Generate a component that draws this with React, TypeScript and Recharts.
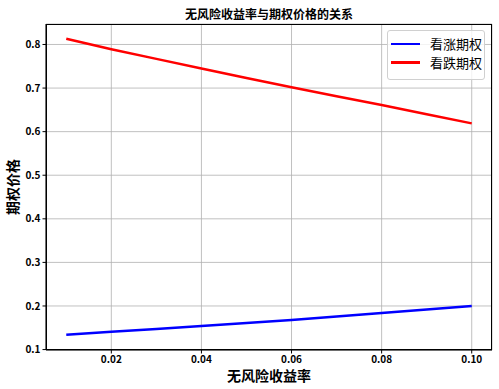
import React from 'react';
import { LineChart, Line, XAxis, YAxis, CartesianGrid, Legend } from 'recharts';

// 无风险收益率
const rates = [0.01, 0.02, 0.03, 0.04, 0.05, 0.06, 0.07, 0.08, 0.09, 0.1];
// 看涨期权价格
const callPrices = [0.134, 0.141, 0.147, 0.154, 0.161, 0.168, 0.176, 0.184, 0.192, 0.2];
// 看跌期权价格
const putPrices = [0.813, 0.789, 0.767, 0.745, 0.723, 0.702, 0.681, 0.661, 0.64, 0.619];

const xTicks = [0.02, 0.04, 0.06, 0.08, 0.1];
const yTicks = [0.1, 0.2, 0.3, 0.4, 0.5, 0.6, 0.7, 0.8];

const data = rates.map((r, i) => ({ r, call: callPrices[i], put: putPrices[i] }));

const FONT = '"Noto Sans CJK SC", "DejaVu Sans", sans-serif';

const W = 499;
const H = 389;
const plot = { left: 46, top: 24, right: 492, bottom: 350 };

function LegendBox() {
  const items = [
    { name: '看涨期权', color: '#0000ff' },
    { name: '看跌期权', color: '#ff0000' },
  ];
  return (
    <div
      style={{
        position: 'absolute',
        left: 387,
        top: 30,
        width: 98,
        height: 50,
        border: '1px solid #d0d0d0',
        borderRadius: 3,
        background: 'rgba(255,255,255,0.8)',
        fontFamily: FONT,
        fontSize: 13,
        boxSizing: 'border-box',
      }}
    >
      {items.map((it, i) => (
        <div key={it.name} style={{ position: 'absolute', left: 3, top: 4 + i * 18.5, display: 'flex', alignItems: 'center', height: 18 }}>
          <div style={{ width: 29, height: 2.5, background: it.color }} />
          <span style={{ marginLeft: 10, color: '#000', lineHeight: '18px' }}>{it.name}</span>
        </div>
      ))}
    </div>
  );
}

export default function App() {
  return (
    <div style={{ position: 'absolute', left: 0, top: 0, width: W, height: H, background: '#fff' }}>
      <LineChart
        width={W}
        height={H}
        data={data}
        margin={{ top: plot.top, right: W - plot.right, left: 8, bottom: 0 }}
      >
        <CartesianGrid stroke="#b0b0b0" strokeWidth={0.8} />
        <XAxis
          dataKey="r"
          type="number"
          domain={[0.0055, 0.1045]}
          ticks={xTicks}
          tickFormatter={(v: number) => v.toFixed(2)}
          height={H - plot.bottom}
          stroke="#000"
          tickSize={3.5}
          tick={{ fill: '#000', fontSize: 10, fontFamily: FONT, fontWeight: 600 }}
          allowDataOverflow
        />
        <YAxis
          type="number"
          domain={[0.099, 0.847]}
          ticks={yTicks}
          tickFormatter={(v: number) => v.toFixed(1)}
          width={plot.left - 8}
          stroke="#000"
          tickSize={3.5}
          tick={{ fill: '#000', fontSize: 10, fontFamily: FONT, fontWeight: 600 }}
          allowDataOverflow
        />
        <Line type="linear" dataKey="call" name="看涨期权" stroke="#0000ff" strokeWidth={2.5} dot={false} isAnimationActive={false} />
        <Line type="linear" dataKey="put" name="看跌期权" stroke="#ff0000" strokeWidth={2.5} dot={false} isAnimationActive={false} />
        <Legend content={() => null} />
      </LineChart>
      {/* 坐标框 */}
      <div
        style={{
          position: 'absolute',
          left: plot.left,
          top: plot.top,
          width: plot.right - plot.left,
          height: plot.bottom - plot.top,
          border: '1px solid #000',
          boxSizing: 'border-box',
          pointerEvents: 'none',
        }}
      />
      <LegendBox />
      <div
        style={{
          position: 'absolute',
          left: plot.left,
          width: plot.right - plot.left,
          top: 6,
          textAlign: 'center',
          fontFamily: FONT,
          fontSize: 12,
          fontWeight: 700,
          lineHeight: '16px',
        }}
      >
        无风险收益率与期权价格的关系
      </div>
      <div
        style={{
          position: 'absolute',
          left: plot.left,
          width: plot.right - plot.left,
          top: 366,
          textAlign: 'center',
          fontFamily: FONT,
          fontSize: 14,
          fontWeight: 700,
          lineHeight: '18px',
        }}
      >
        无风险收益率
      </div>
      <div
        style={{
          position: 'absolute',
          left: 12,
          top: (plot.top + plot.bottom) / 2,
          transform: 'translate(-50%, -50%) rotate(-90deg)',
          whiteSpace: 'nowrap',
          fontFamily: FONT,
          fontSize: 14,
          fontWeight: 700,
          lineHeight: '18px',
        }}
      >
        期权价格
      </div>
    </div>
  );
}
